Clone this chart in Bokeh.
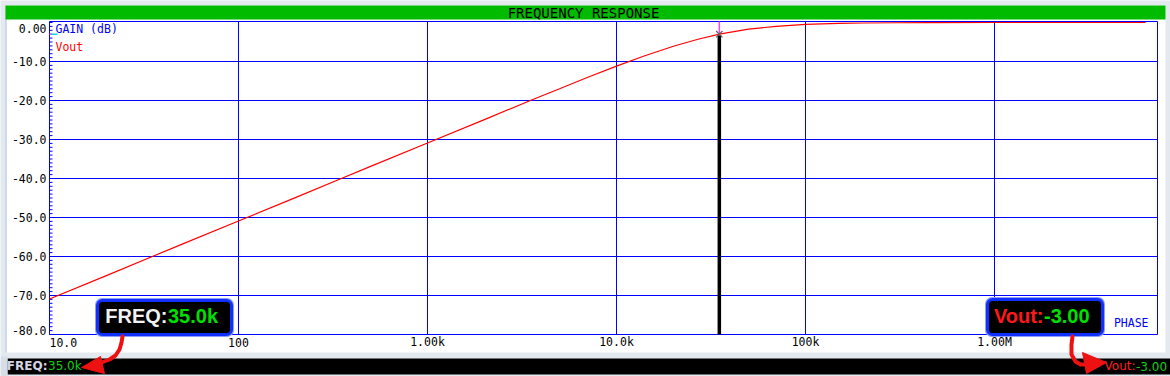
import math
from bokeh.plotting import figure
from bokeh.models import Range1d, Label, BoxAnnotation, PolyAnnotation
from bokeh.embed import file_html
from bokeh.resources import INLINE

# ---------------- data ----------------
freq_hz = [10, 20, 35, 50, 100, 200, 350, 500, 1000, 2000, 3500, 5000, 7000,
           10000, 14000, 20000, 27000, 35000, 50000, 70000, 100000, 150000,
           200000, 300000, 447000, 1000000, 6300000]
gain_db = [-70.9, -64.9, -60.0, -56.9, -50.9, -44.9, -40.0, -36.9, -30.9, -24.9,
           -20.0, -17.0, -14.1, -11.2, -8.6, -6.1, -4.3, -3.0, -1.7, -0.97, -0.5,
           -0.23, -0.13, -0.06, -0.03, 0.0, 0.0]

x_ticks = [10, 100, 1000, 10000, 100000, 1000000]
x_tick_labels = ["10.0", "100", "1.00k", "10.0k", "100k", "1.00M"]
y_ticks = [0, -10, -20, -30, -40, -50, -60, -70, -80]
y_tick_labels = ["0.00", "-10.0", "-20.0", "-30.0", "-40.0", "-50.0", "-60.0", "-70.0", "-80.0"]
y_minor_ticks = list(range(-80, 1))

cursor_freq = 35000
cursor_gain = -3.00
cursor_freq_text = "35.0k"
cursor_gain_text = "-3.00"
title_text = "FREQUENCY RESPONSE"
axis_title = "GAIN (dB)"
trace_name = "Vout"
right_axis_title = "PHASE"

# ---------------- layout (pixel <-> data mapping of the whole canvas) ----------------
W, H = 1170, 376
X0_PX, DEC_PX = 49.0, 189.0        # pixel of 10 Hz, pixels per decade
Y0_PX, DB_PX = 22.0, 3.9           # pixel of 0 dB, pixels per dB
PL, PR, PT, PB = 49.0, 1157.0, 21.0, 334.0   # plot-area border


def fx(px):
    return 10 ** (1 + (px - X0_PX) / DEC_PX)


def fy(py):
    return (Y0_PX - py) / DB_PX


def ypix(v):
    return Y0_PX - v * DB_PX


XMIN, XMAX = fx(PL), fx(PR)
YMIN, YMAX = fy(PB), fy(PT)

BLUE = "#0000ff"
MONO = "DejaVu Sans Mono"
BG = "#e3e9ef"

p = figure(width=W, height=H, x_axis_type="log",
           x_range=Range1d(fx(0), fx(W)), y_range=Range1d(fy(H), fy(0)),
           x_axis_location=None, y_axis_location=None,
           output_backend="svg", toolbar_location=None,
           min_border=0, min_border_left=0, min_border_right=0,
           min_border_top=0, min_border_bottom=0,
           background_fill_color=BG, border_fill_color=BG,
           outline_line_color=None)
p.grid.visible = False


def box(x0, x1, y0, y1, color, line_color=None, line_width=1, level="underlay", **kw):
    b = BoxAnnotation(left=fx(x0), right=fx(x1), top=fy(y0), bottom=fy(y1),
                      fill_color=color, fill_alpha=1, line_color=line_color,
                      line_alpha=1, line_width=line_width, level=level, **kw)
    p.add_layout(b)
    return b


# window chrome (underlay)
box(5, W - 5, 5, 352, "white")
box(5, 6, 5, 352, "#a8bcd8")
box(5, W - 5, 5, 19, "#00bb00")
box(7, W, 358, 374, "#000000")
box(0, 7, 356, 376, "#d8dee6")

# plot area border
p.add_layout(BoxAnnotation(left=XMIN, right=XMAX, top=YMAX, bottom=YMIN,
                           fill_color="white", fill_alpha=1, line_color=BLUE,
                           line_alpha=1, line_width=1, level="underlay"))

# grid lines
gx = x_ticks[1:]
p.segment(x0=gx, y0=[YMIN] * len(gx), x1=gx, y1=[YMAX] * len(gx),
          line_color=BLUE, line_width=1)
gy = y_ticks[1:-1]
p.segment(x0=[XMIN] * len(gy), y0=gy, x1=[XMAX] * len(gy), y1=gy,
          line_color=BLUE, line_width=1)
# minor ticks on the gain axis
p.segment(x0=[XMIN] * len(y_minor_ticks), y0=y_minor_ticks,
          x1=[fx(PL + 3)] * len(y_minor_ticks), y1=y_minor_ticks,
          line_color=BLUE, line_width=1)

# curve
p.line(freq_hz, gain_db, line_color="#ff0000", line_width=1.2)

# cursor
p.segment(x0=[cursor_freq], y0=[YMIN], x1=[cursor_freq], y1=[cursor_gain - 0.3],
          line_color="black", line_width=3.5)
p.segment(x0=[cursor_freq], y0=[cursor_gain], x1=[cursor_freq], y1=[YMAX],
          line_color="#ff40ff", line_width=1.5)
p.scatter([cursor_freq], [cursor_gain], marker="x", size=9,
          line_color="#606060", line_width=1.2)
p.segment(x0=[XMIN], y0=[cursor_gain], x1=[fx(PL + 2)], y1=[cursor_gain],
          line_color="#ff40ff", line_width=1.5)
p.segment(x0=[fx(PL + 2)], y0=[cursor_gain], x1=[fx(PL + 8)], y1=[cursor_gain],
          line_color="#00e0e0", line_width=1.5)


def label(px, py, text, color="black", size="11.5px", font=MONO, align="left",
          style="normal", x=None, y=None):
    p.add_layout(Label(x=fx(px) if x is None else x, y=fy(py) if y is None else y,
                       text=text, text_color=color, text_font_size=size,
                       text_font=font, text_align=align, text_baseline="middle",
                       text_font_style=style))


def poly(pts, color, width=None, fill=False):
    xs = [fx(a) for a, b in pts]
    ys = [fy(b) for a, b in pts]
    if fill:
        p.add_layout(PolyAnnotation(xs=xs, ys=ys, fill_color=color, fill_alpha=1,
                                    line_color=color, line_alpha=1, line_width=1))
    else:
        xs2 = xs + xs[-2::-1]
        ys2 = ys + ys[-2::-1]
        p.add_layout(PolyAnnotation(xs=xs2, ys=ys2, fill_alpha=0, line_color=color,
                                    line_alpha=1, line_width=width, line_join="round"))


# title
label(583, 12.5, title_text, size="14px", align="center")

# y tick labels
for v, t in zip(y_ticks, y_tick_labels):
    py = min(max(ypix(v), PT + 7), PB - 4)
    label(46, py, t, align="right")

# x tick labels
for i, (v, t) in enumerate(zip(x_ticks, x_tick_labels)):
    if i == 0:
        label(PL, 341.5, t, align="left")
    else:
        label(None, 341.5, t, align="center", x=v)

label(55, 28, axis_title, color=BLUE)
label(55, 46, trace_name, color="#ff0000")
label(1148, 322.5, right_axis_title, color=BLUE, align="right")

# callout boxes
for (x0, x1, y0, y1) in [(97, 231, 300, 334), (987, 1102, 299, 334)]:
    box(x0 - 2.5, x1 + 2.5, y0 - 2.5, y1 + 2.5, "#8c9cff", border_radius=7,
        level="annotation")
    box(x0, x1, y0, y1, "#000000", line_color="#1030ff", line_width=3,
        border_radius=5, level="annotation")

CAL_FONT = "Liberation Sans"
label(167, 315, "FREQ:", color="#f2f2f2", size="20px", font=CAL_FONT, align="right",
      style="bold")
label(167.5, 315, cursor_freq_text, color="#00e000", size="20px", font=CAL_FONT,
      style="bold")
label(1043, 315.5, trace_name + ":", color="#ff1818", size="20px", font=CAL_FONT,
      align="right", style="bold")
label(1043.5, 315.5, cursor_gain_text, color="#00e000", size="20px", font=CAL_FONT,
      style="bold")

# status bar texts
label(47, 365.5, "FREQ:", color="#d4d4e4", size="12px", font="DejaVu Sans",
      align="right", style="bold")
label(47.5, 365.5, cursor_freq_text, color="#10d010", size="12px", font="DejaVu Sans")
label(1135, 365.5, trace_name + ":", color="#ff2020", size="12px", font="DejaVu Sans",
      align="right")
label(1135.5, 365.5, cursor_gain_text, color="#10d010", size="12px",
      font="DejaVu Sans")

# red arrows
ARROW = "#ee1111"
poly([(122, 336), (121, 342), (119, 349), (115, 355), (109, 359), (101, 362)], ARROW, 4)
poly([(100, 356), (104, 373), (81, 367)], ARROW, fill=True)
poly([(1072, 336), (1071, 344), (1071, 354), (1075, 361), (1080, 364), (1086, 364)],
     ARROW, 4)
poly([(1082, 352), (1086, 373), (1106, 362)], ARROW, fill=True)

open("out.html", "w").write(file_html(p, INLINE))
